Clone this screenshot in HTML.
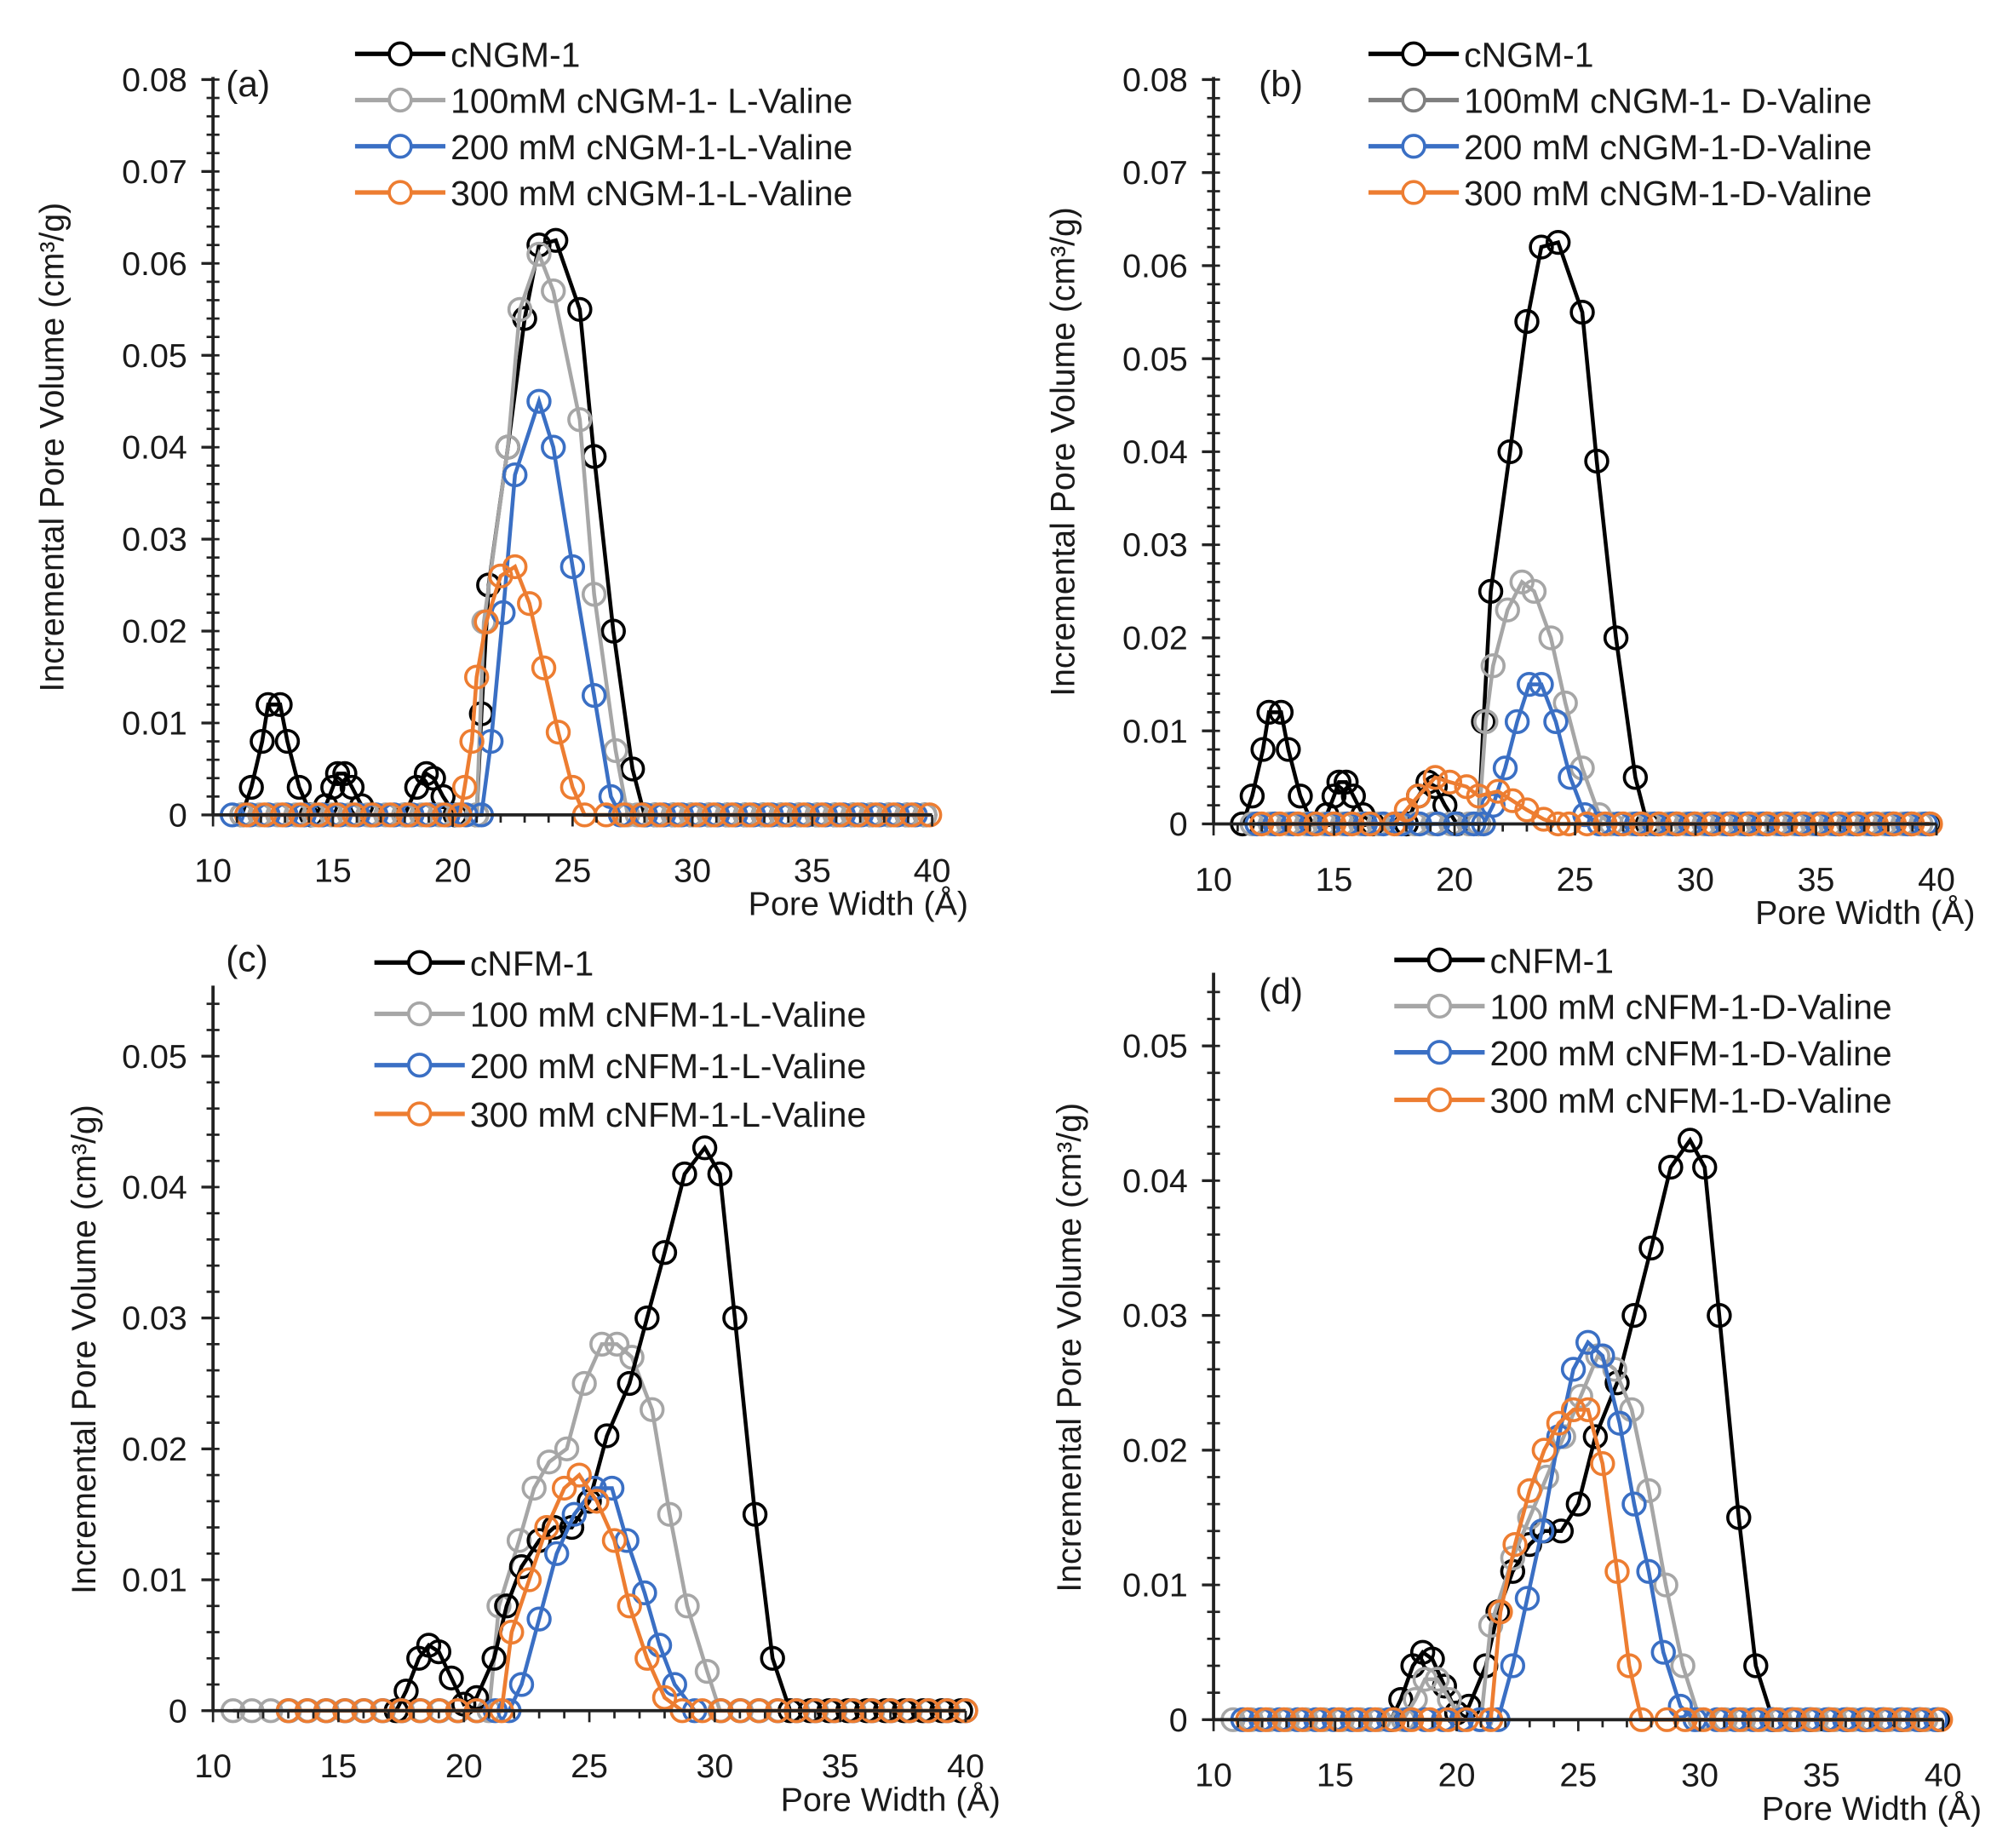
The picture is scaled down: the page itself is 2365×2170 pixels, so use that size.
<!DOCTYPE html>
<html><head><meta charset="utf-8">
<style>
html,body{margin:0;padding:0;background:#fff;}
svg{display:block;}
text{font-family:"Liberation Sans",sans-serif;fill:#1a1a1a;}
</style></head>
<body>
<svg id="s" width="2365" height="2170" viewBox="0 0 1560 1440" preserveAspectRatio="none" xmlns="http://www.w3.org/2000/svg"></svg>
<script>
const S=document.getElementById('s');let h='';
const K='#000',G='#a6a6a6',DG='#7f7f7f',B='#3a6fc4',O='#ed7d31';
const blackA=[[11.2,0],[11.6,0.003],[12.05,0.008],[12.3,0.012],[12.8,0.012],[13.1,0.008],[13.6,0.003],[14.1,0],[14.7,0.001],[15.0,0.003],[15.2,0.0045],[15.5,0.0045],[15.8,0.003],[16.2,0.001],[16.6,0],[18.0,0],[18.5,0.003],[18.9,0.0045],[19.2,0.004],[19.6,0.002],[20.1,0],
[21.0,0],[21.2,0.011],[21.5,0.025],[22.3,0.04],[23.0,0.054],[23.6,0.062],[24.3,0.0625],[25.3,0.055],[25.9,0.039],[26.7,0.02],[27.5,0.005],[28,0]];
const blackC=[[17.3,0],[17.7,0.0015],[18.2,0.004],[18.6,0.005],[19.0,0.0045],[19.5,0.0025],[20.0,0.0005],[20.5,0.001],[21.2,0.004],[21.7,0.008],[22.3,0.011],[23.0,0.013],[23.6,0.014],[24.3,0.014],[25.0,0.016],[25.7,0.021],[26.6,0.025],[27.3,0.03],[28.0,0.035],[28.8,0.041],[29.6,0.043],[30.2,0.041],[30.8,0.03],[31.6,0.015],[32.3,0.004],[33,0]];
const panels=[
{x0:165,x1:722,y0:635,yt:62,ymax:0.08,top:62,lab:'(a)',lx:175,ly:75,step:0.01,minor:0.002,legx:275,legy:[42,78,114,150],
 leg:['cNGM-1','100mM cNGM-1- L-Valine','200 mM cNGM-1-L-Valine','300 mM cNGM-1-L-Valine'],cols:[K,G,B,O],pw:[560,750],ylx:45,
 ser:[{c:K,st:11.2,p:blackA},{c:G,st:11.2,p:[[21.0,0],[21.3,0.021],[22.3,0.04],[22.8,0.055],[23.6,0.061],[24.2,0.057],[25.3,0.043],[25.9,0.024],[26.8,0.007],[27.3,0]]},
 {c:B,st:10.8,p:[[21.2,0],[21.6,0.008],[22.1,0.022],[22.6,0.037],[23.6,0.045],[24.2,0.04],[25.0,0.027],[25.9,0.013],[26.6,0.002],[27.0,0]]},
 {c:O,st:11.4,p:[[20.3,0],[20.5,0.003],[20.8,0.008],[21.0,0.015],[21.4,0.021],[22.0,0.026],[22.6,0.027],[23.2,0.023],[23.8,0.016],[24.4,0.009],[25.0,0.003],[25.5,0]]}]},
{x0:940,x1:1500,y0:642,yt:62,ymax:0.08,top:62,lab:'(b)',lx:975,ly:75,step:0.01,minor:0.002,legx:1060,legy:[42,78,114,150],
 leg:['cNGM-1','100mM cNGM-1- D-Valine','200 mM cNGM-1-D-Valine','300 mM cNGM-1-D-Valine'],cols:[K,DG,B,O],pw:[1340,1530],ylx:828,
 ser:[{c:K,st:11.2,p:blackA},{c:G,st:11.6,p:[[21.0,0],[21.3,0.011],[21.6,0.017],[22.2,0.023],[22.8,0.026],[23.3,0.025],[24.0,0.02],[24.6,0.013],[25.3,0.006],[26.0,0.001],[26.5,0]]},
 {c:B,st:11.8,p:[[21.2,0],[21.6,0.002],[22.1,0.006],[22.6,0.011],[23.1,0.015],[23.6,0.015],[24.2,0.011],[24.8,0.005],[25.4,0.001],[26,0]]},
 {c:O,st:12.0,p:[[17.5,0],[18.0,0.0015],[18.5,0.003],[19.2,0.005],[19.8,0.0045],[20.5,0.004],[21.0,0.003],[21.8,0.0035],[22.4,0.0025],[23.0,0.0015],[23.7,0.0005],[24.3,0]]}]},
{x0:165,x1:748,y0:1333,yt:823,ymax:0.05,top:770,lab:'(c)',lx:175,ly:757,step:0.01,minor:0.002,legx:290,legy:[750,790,830,868],
 leg:['cNFM-1','100 mM cNFM-1-L-Valine','200 mM cNFM-1-L-Valine','300 mM cNFM-1-L-Valine'],cols:[K,G,B,O],pw:[585,775],ylx:70,
 ser:[{c:G,st:10.8,p:[[21.0,0],[21.4,0.008],[22.2,0.013],[22.8,0.017],[23.4,0.019],[24.1,0.02],[24.8,0.025],[25.5,0.028],[26.1,0.028],[26.7,0.027],[27.5,0.023],[28.2,0.015],[28.9,0.008],[29.7,0.003],[30.2,0]]},
 {c:K,st:17.3,p:blackC},
 {c:B,st:13,p:[[21.8,0],[22.3,0.002],[23.0,0.007],[23.7,0.012],[24.4,0.015],[25.2,0.017],[25.9,0.017],[26.5,0.013],[27.2,0.009],[27.8,0.005],[28.4,0.002],[29.2,0]]},
 {c:O,st:13,p:[[21.5,0],[21.9,0.006],[22.6,0.01],[23.3,0.014],[24.0,0.017],[24.6,0.018],[25.3,0.016],[26.0,0.013],[26.6,0.008],[27.3,0.004],[28.0,0.001],[28.7,0]]}]},
{x0:940,x1:1505,y0:1340,yt:815,ymax:0.05,top:760,lab:'(d)',lx:975,ly:782,step:0.01,minor:0.002,legx:1080,legy:[748,784,820,857],
 leg:['cNFM-1','100 mM cNFM-1-D-Valine','200 mM cNFM-1-D-Valine','300 mM cNFM-1-D-Valine'],cols:[K,G,B,O],pw:[1345,1535],ylx:833,
 ser:[{c:K,st:17.3,p:blackC},{c:G,st:10.8,p:[[17.8,0],[18.3,0.0015],[18.7,0.003],[19.2,0.003],[19.7,0.0015],[20.2,0],[21.0,0],[21.4,0.007],[22.3,0.012],[23.0,0.015],[23.7,0.018],[24.4,0.021],[25.1,0.024],[25.8,0.027],[26.5,0.026],[27.2,0.023],[27.9,0.017],[28.6,0.01],[29.3,0.004],[30,0]]},
 {c:B,st:11.2,p:[[21.7,0],[22.3,0.004],[22.9,0.009],[23.5,0.014],[24.2,0.021],[24.8,0.026],[25.4,0.028],[26.0,0.027],[26.7,0.022],[27.3,0.016],[27.9,0.011],[28.5,0.005],[29.2,0.001],[29.8,0]]},
 {c:O,st:11.4,p:[[21.4,0],[21.8,0.008],[22.4,0.013],[23.0,0.017],[23.6,0.02],[24.2,0.022],[24.8,0.023],[25.4,0.023],[26.0,0.019],[26.6,0.011],[27.1,0.004],[27.6,0]]}]}
];
for(const P of panels){
 const X=v=>P.x0+(v-10)*(P.x1-P.x0)/30;
 const Y=v=>P.y0-v*(P.y0-P.yt)/P.ymax;
 for(const s of P.ser){
  let pts=[];const lo=s.p[0][0],hi=s.p[s.p.length-1][0];
  for(let x=s.st;x<=40.01;x+=0.75){ if(x<lo-0.3||x>hi+0.3) pts.push([x,0]); }
  pts=pts.concat(s.p).sort((a,b)=>a[0]-b[0]);
  h+=`<polyline fill="none" stroke="${s.c}" stroke-width="3" points="${pts.map(p=>X(p[0]).toFixed(1)+','+Y(p[1]).toFixed(1)).join(' ')}"/>`;
  for(const p of pts) h+=`<circle cx="${X(p[0]).toFixed(1)}" cy="${Y(p[1]).toFixed(1)}" r="8.5" fill="none" stroke="${s.c}" stroke-width="2.4"/>`;
 }
 h+=`<line x1="${P.x0}" y1="${P.top-2}" x2="${P.x0}" y2="${P.y0}" stroke="#222" stroke-width="2.5"/>`;
 h+=`<line x1="${P.x0}" y1="${P.y0}" x2="${P.x1}" y2="${P.y0}" stroke="#222" stroke-width="2.5"/>`;
 for(let v=0;Y(v)>=P.top-1;v+=P.minor){h+=`<line x1="${P.x0-5}" y1="${Y(v)}" x2="${P.x0+5}" y2="${Y(v)}" stroke="#222" stroke-width="1.8"/>`;}
 for(let v=0;v<=P.ymax+1e-9;v+=P.step){const y=Y(v);h+=`<line x1="${P.x0-9}" y1="${y}" x2="${P.x0}" y2="${y}" stroke="#222" stroke-width="2.2"/>`;
  h+=`<text x="${P.x0-20}" y="${y+9}" font-size="26" text-anchor="end">${v<1e-9?'0':v.toFixed(2)}</text>`;}
 for(let v=10;v<=40;v++){const x=X(v);const m=v%5==0;h+=`<line x1="${x}" y1="${P.y0}" x2="${x}" y2="${P.y0+(m?9:6)}" stroke="#222" stroke-width="1.8"/>`;
  if(m)h+=`<text x="${x}" y="${P.y0+52}" font-size="26" text-anchor="middle">${v}</text>`;}
 h+=`<text x="${P.pw[1]}" y="${P.y0+78}" font-size="26" text-anchor="end">Pore Width (Å)</text>`;
 const cy=(P.y0+P.top)/2;
 h+=`<text x="${P.ylx+4}" y="${cy}" font-size="26" text-anchor="middle" transform="rotate(-90 ${P.ylx+4} ${cy})">Incremental Pore Volume (cm³/g)</text>`;
 h+=`<text x="${P.lx}" y="${P.ly}" font-size="28">${P.lab}</text>`;
 for(let i=0;i<4;i++){const y=P.legy[i];h+=`<line x1="${P.legx}" y1="${y}" x2="${P.legx+70}" y2="${y}" stroke="${P.cols[i]}" stroke-width="3.5"/><circle cx="${P.legx+35}" cy="${y}" r="8.5" fill="#fff" stroke="${P.cols[i]}" stroke-width="2.4"/>`;
  h+=`<text x="${P.legx+74}" y="${y+10}" font-size="27">${P.leg[i]}</text>`;}
}
S.innerHTML=h;
</script>
</body></html>
